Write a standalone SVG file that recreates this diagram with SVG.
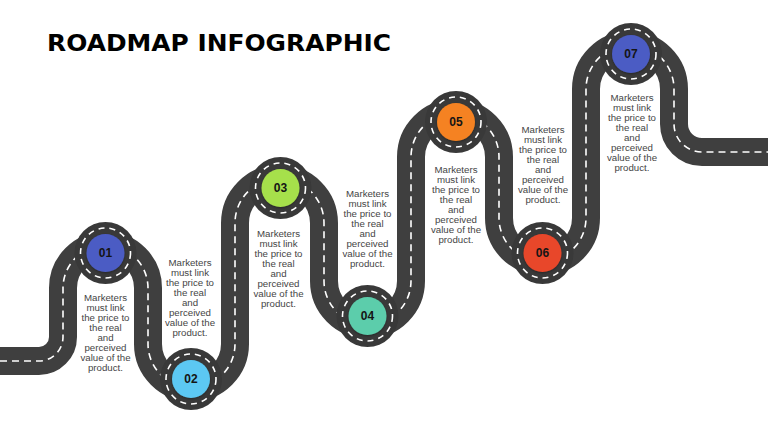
<svg xmlns="http://www.w3.org/2000/svg" width="768" height="432" viewBox="0 0 768 432">
<defs>
<style>
.road{fill:none;stroke:#3f3f3f;stroke-width:28;stroke-linejoin:round}
.lane{fill:none;stroke:#ffffff;stroke-width:1.6;stroke-dasharray:7 5}
.disc{fill:#393939}
.ring{fill:none;stroke:#ffffff;stroke-width:1.6;stroke-dasharray:6 5}
.num{font-family:"Liberation Sans",Arial,sans-serif;font-weight:bold;font-size:12px;fill:#151515;text-anchor:middle}
.desc{font-family:"Liberation Sans",Arial,sans-serif;font-size:9.7px;fill:#454545;text-anchor:middle}
.title{font-family:"DejaVu Sans",sans-serif;font-weight:bold;font-size:23px;fill:#000000}
</style>
<filter id="sh" x="-30%" y="-30%" width="160%" height="160%">
<feDropShadow dx="0" dy="1" stdDeviation="1.2" flood-color="#000" flood-opacity="0.35"/>
</filter>
</defs>
<rect width="768" height="432" fill="#ffffff"/>
<text class="title" x="47" y="51" textLength="344" lengthAdjust="spacingAndGlyphs">ROADMAP INFOGRAPHIC</text>

<g id="connectors">
<path id="road" class="road" d="M0 361 H39 A24 24 0 0 0 63 337 V288 A42.5 42.5 0 0 1 148 288 V344 A43.5 43.5 0 0 0 235 344 V223 A44.5 44.5 0 0 1 324 223 V281 A43.5 43.5 0 0 0 411 281 V157 A44 44 0 0 1 499 157 V218 A43.5 43.5 0 0 0 586 218 V89 A44 44 0 0 1 674 89 V124 A28 28 0 0 0 702 152 H768"/>
<path class="lane" d="M0 361 H39 A24 24 0 0 0 63 337 V288 A42.5 42.5 0 0 1 148 288 V344 A43.5 43.5 0 0 0 235 344 V223 A44.5 44.5 0 0 1 324 223 V281 A43.5 43.5 0 0 0 411 281 V157 A44 44 0 0 1 499 157 V218 A43.5 43.5 0 0 0 586 218 V89 A44 44 0 0 1 674 89 V124 A28 28 0 0 0 702 152 H768"/>
</g>

<g id="node-01">
<circle class="disc" cx="105.5" cy="253" r="31"/>
<circle class="ring" cx="105.5" cy="253" r="25"/>
<circle cx="105.5" cy="253" r="19" fill="#4b5cc4" filter="url(#sh)"/>
<text class="num" x="105.5" y="257.3">01</text>
</g>
<g id="node-02">
<circle class="disc" cx="191" cy="379" r="31"/>
<circle class="ring" cx="191" cy="379" r="25"/>
<circle cx="191" cy="379" r="19" fill="#5bc8f3" filter="url(#sh)"/>
<text class="num" x="191" y="383.3">02</text>
</g>
<g id="node-03">
<circle class="disc" cx="280.5" cy="188" r="31"/>
<circle class="ring" cx="280.5" cy="188" r="25"/>
<circle cx="280.5" cy="188" r="19" fill="#a6e04b" filter="url(#sh)"/>
<text class="num" x="280.5" y="192.3">03</text>
</g>
<g id="node-04">
<circle class="disc" cx="367.5" cy="316" r="31"/>
<circle class="ring" cx="367.5" cy="316" r="25"/>
<circle cx="367.5" cy="316" r="19" fill="#5ccdab" filter="url(#sh)"/>
<text class="num" x="367.5" y="320.3">04</text>
</g>
<g id="node-05">
<circle class="disc" cx="456" cy="122" r="31"/>
<circle class="ring" cx="456" cy="122" r="25"/>
<circle cx="456" cy="122" r="19" fill="#f58220" filter="url(#sh)"/>
<text class="num" x="456" y="126.3">05</text>
</g>
<g id="node-06">
<circle class="disc" cx="542.5" cy="253" r="31"/>
<circle class="ring" cx="542.5" cy="253" r="25"/>
<circle cx="542.5" cy="253" r="19" fill="#e8462b" filter="url(#sh)"/>
<text class="num" x="542.5" y="257.3">06</text>
</g>
<g id="node-07">
<circle class="disc" cx="631" cy="54" r="31"/>
<circle class="ring" cx="631" cy="54" r="25"/>
<circle cx="631" cy="54" r="19" fill="#4b5cc4" filter="url(#sh)"/>
<text class="num" x="631" y="58.3">07</text>
</g>

<g id="text-01"><text class="desc" y="300.5"><tspan x="105.5">Marketers</tspan><tspan x="105.5" dy="10.05">must link</tspan><tspan x="105.5" dy="10.05">the price to</tspan><tspan x="105.5" dy="10.05">the real</tspan><tspan x="105.5" dy="10.05">and</tspan><tspan x="105.5" dy="10.05">perceived</tspan><tspan x="105.5" dy="10.05">value of the</tspan><tspan x="105.5" dy="10.05">product.</tspan></text></g>
<g id="text-02"><text class="desc" y="265.5"><tspan x="190">Marketers</tspan><tspan x="190" dy="10.05">must link</tspan><tspan x="190" dy="10.05">the price to</tspan><tspan x="190" dy="10.05">the real</tspan><tspan x="190" dy="10.05">and</tspan><tspan x="190" dy="10.05">perceived</tspan><tspan x="190" dy="10.05">value of the</tspan><tspan x="190" dy="10.05">product.</tspan></text></g>
<g id="text-03"><text class="desc" y="236.5"><tspan x="278.5">Marketers</tspan><tspan x="278.5" dy="10.05">must link</tspan><tspan x="278.5" dy="10.05">the price to</tspan><tspan x="278.5" dy="10.05">the real</tspan><tspan x="278.5" dy="10.05">and</tspan><tspan x="278.5" dy="10.05">perceived</tspan><tspan x="278.5" dy="10.05">value of the</tspan><tspan x="278.5" dy="10.05">product.</tspan></text></g>
<g id="text-04"><text class="desc" y="196.5"><tspan x="367.5">Marketers</tspan><tspan x="367.5" dy="10.05">must link</tspan><tspan x="367.5" dy="10.05">the price to</tspan><tspan x="367.5" dy="10.05">the real</tspan><tspan x="367.5" dy="10.05">and</tspan><tspan x="367.5" dy="10.05">perceived</tspan><tspan x="367.5" dy="10.05">value of the</tspan><tspan x="367.5" dy="10.05">product.</tspan></text></g>
<g id="text-05"><text class="desc" y="172.5"><tspan x="456">Marketers</tspan><tspan x="456" dy="10.05">must link</tspan><tspan x="456" dy="10.05">the price to</tspan><tspan x="456" dy="10.05">the real</tspan><tspan x="456" dy="10.05">and</tspan><tspan x="456" dy="10.05">perceived</tspan><tspan x="456" dy="10.05">value of the</tspan><tspan x="456" dy="10.05">product.</tspan></text></g>
<g id="text-06"><text class="desc" y="133"><tspan x="543">Marketers</tspan><tspan x="543" dy="10.05">must link</tspan><tspan x="543" dy="10.05">the price to</tspan><tspan x="543" dy="10.05">the real</tspan><tspan x="543" dy="10.05">and</tspan><tspan x="543" dy="10.05">perceived</tspan><tspan x="543" dy="10.05">value of the</tspan><tspan x="543" dy="10.05">product.</tspan></text></g>
<g id="text-07"><text class="desc" y="100.5"><tspan x="632">Marketers</tspan><tspan x="632" dy="10.05">must link</tspan><tspan x="632" dy="10.05">the price to</tspan><tspan x="632" dy="10.05">the real</tspan><tspan x="632" dy="10.05">and</tspan><tspan x="632" dy="10.05">perceived</tspan><tspan x="632" dy="10.05">value of the</tspan><tspan x="632" dy="10.05">product.</tspan></text></g>
</svg>
